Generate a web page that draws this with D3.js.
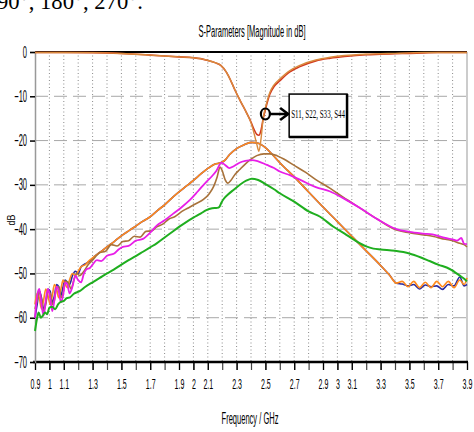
<!DOCTYPE html>
<html><head><meta charset="utf-8">
<script src="https://cdn.jsdelivr.net/npm/d3@7"></script>
<style>
body{margin:0;background:#fff;}
svg{display:block;}
</style></head>
<body><svg id="c" width="474" height="432"></svg>
<script>
// ---------- data ----------
const xTickLabels = [0.9,1,1.1,1.3,1.5,1.7,1.9,2,2.1,2.3,2.5,2.7,2.9,3,3.1,3.3,3.5,3.7,3.9];
const xMinorTicks = [0.9,1,1.1,1.2,1.3,1.4,1.5,1.6,1.7,1.8,1.9,2,2.1,2.2,2.3,2.4,2.5,2.6,2.7,2.8,2.9,3,3.1,3.2,3.3,3.4,3.5,3.6,3.7,3.8,3.9];
const yTicks = [0,-10,-20,-30,-40,-50,-60,-70];

// S11 group (reflection)
const s11Freq = [0.9,1.1,1.3,1.5,1.6,1.7,1.8,1.9,2.0,2.05,2.1,2.15,2.19,2.23,2.26,2.29,2.33,2.37,2.4,2.42,2.44,2.455,2.47,2.485,2.5,2.53,2.56,2.6,2.67,2.74,2.85,2.95,3.05,3.2,3.3,3.4,3.5,3.6,3.7,3.9];
const s11Red  = [-0.1,-0.1,-0.15,-0.35,-0.5,-0.7,-0.9,-1.1,-1.3,-1.5,-1.9,-2.4,-3.0,-4.6,-6.5,-8.7,-11.3,-13.8,-15.8,-17.4,-18.6,-18.8,-17.6,-15.0,-13.0,-9.6,-7.8,-6.5,-4.5,-3.3,-2.0,-1.4,-1.0,-0.6,-0.5,-0.4,-0.3,-0.2,-0.1,-0.1];
const s11Org  = [-0.1,-0.1,-0.15,-0.35,-0.5,-0.7,-0.9,-1.1,-1.3,-1.5,-1.9,-2.4,-3.0,-4.6,-6.5,-8.7,-11.3,-13.8,-16.0,-18.2,-20.8,-22.4,-19.5,-14.8,-12.6,-9.2,-7.4,-6.1,-4.2,-3.0,-1.8,-1.2,-0.8,-0.5,-0.4,-0.3,-0.2,-0.1,-0.1,-0.1];

// transmission, orange
const orgFreq = [0.9,0.915,0.93,0.945,0.96,0.975,0.99,1.005,1.02,1.035,1.05,1.065,1.08,1.095,1.11,1.125,1.14,1.16,1.18,1.2,1.22,1.25,1.28,1.32,1.36,1.4,1.45,1.5,1.55,1.6,1.65,1.7,1.75,1.8,1.85,1.9,1.95,2.0,2.05,2.1,2.15,2.19,2.22,2.25,2.3,2.35,2.4,2.45,2.5,2.55,2.6,2.7,2.8,2.9,3.0,3.1,3.2,3.3,3.36,3.41,3.45,3.49,3.53,3.57,3.61,3.65,3.69,3.73,3.77,3.81,3.85,3.88,3.9];
const orgDb   = [-57,-54.5,-55.5,-58,-56,-53.5,-55,-57,-55,-52.5,-53.5,-55.5,-53.5,-51.5,-52.5,-53.2,-51.5,-50,-50.5,-49.5,-48.5,-48,-47,-46,-45,-44,-42.8,-41.5,-40.4,-39.3,-38.2,-37.2,-35.8,-34.5,-33,-31.6,-30.3,-29,-27.6,-26.3,-25.3,-25,-24.4,-23.2,-21.8,-21,-20.4,-20.6,-21.6,-23.2,-25,-28.2,-31.6,-35,-38.3,-41.6,-44.9,-48.2,-50.3,-52.2,-51.8,-53,-51.8,-53.2,-52,-53.2,-51.8,-53,-51.8,-53.2,-51.5,-52.5,-51];
// transmission, navy (mostly under the orange one)
const navyDb  = [-60,-57,-54,-55.5,-58,-56.5,-53.5,-54,-56.5,-55,-52.5,-53,-55,-53,-51.5,-52,-52.5,-50.5,-49.5,-50,-48.5,-47.8,-47.2,-46,-45,-44,-42.8,-41.5,-40.4,-39.3,-38.2,-37.2,-35.8,-34.5,-33,-31.6,-30.3,-29,-27.6,-26.3,-25.3,-25,-24.4,-23.2,-21.8,-21,-20.4,-20.6,-21.6,-23.2,-25,-28.2,-31.6,-35,-38.3,-41.6,-44.9,-48.2,-50.3,-52.2,-52.4,-52.8,-52.5,-53.5,-52.6,-53,-52.8,-53.6,-52.5,-52.8,-50.8,-52.8,-52.5];

// brown
const brnFreq = [0.9,0.915,0.93,0.945,0.96,0.975,0.99,1.005,1.02,1.035,1.05,1.065,1.08,1.095,1.11,1.13,1.15,1.17,1.19,1.21,1.24,1.27,1.3,1.35,1.39,1.43,1.47,1.51,1.55,1.59,1.63,1.67,1.71,1.745,1.79,1.83,1.87,1.92,1.976,2.02,2.07,2.11,2.14,2.165,2.185,2.2,2.22,2.24,2.26,2.29,2.32,2.36,2.4,2.44,2.49,2.53,2.58,2.64,2.7,2.78,2.85,2.95,3.04,3.16,3.28,3.41,3.5,3.6,3.66,3.75,3.8,3.85,3.88,3.9];
const brnDb   = [-58,-56,-54,-56,-58.5,-57,-54,-54.5,-57,-56,-53,-53,-55.5,-54.5,-51.8,-52,-53.5,-51.5,-50,-50.5,-49.5,-48,-47,-45.3,-45,-43.5,-43.8,-42.8,-42.6,-41.6,-41.8,-40.5,-40.4,-39.5,-38.8,-37.7,-37.2,-36,-35,-34.2,-33.3,-32,-30.4,-28.2,-26.0,-26.8,-28.8,-29.6,-29,-27.6,-26.6,-25.3,-24.2,-23.4,-23,-23,-23.4,-24.4,-25.6,-27.2,-28.8,-30.8,-32.8,-35.3,-37.8,-40.2,-40.8,-41.3,-41.6,-42.3,-42.6,-43.2,-43.5,-44];

// magenta
const magFreq = [0.9,0.915,0.93,0.945,0.96,0.975,0.99,1.005,1.02,1.035,1.05,1.065,1.08,1.095,1.11,1.125,1.14,1.16,1.18,1.2,1.22,1.24,1.26,1.28,1.3,1.33,1.36,1.4,1.45,1.48,1.51,1.55,1.6,1.65,1.7,1.745,1.8,1.86,1.92,1.976,2.03,2.09,2.13,2.16,2.196,2.22,2.25,2.28,2.32,2.36,2.405,2.45,2.51,2.56,2.6,2.67,2.75,2.85,2.95,3.04,3.16,3.28,3.41,3.5,3.6,3.66,3.75,3.8,3.83,3.86,3.88,3.9];
const magDb   = [-60,-55,-53.5,-57,-59.5,-56,-53.5,-55.5,-58.5,-56,-53,-54,-56.5,-55,-52,-52.5,-54.5,-53,-50.5,-51.5,-52,-50,-49,-48.8,-48,-47,-47.2,-46,-45.5,-44.6,-44,-43.8,-42.6,-42.2,-40.8,-39.2,-38,-36.5,-35,-33.4,-31.5,-29.3,-28,-26.8,-25,-25.5,-26.2,-25.8,-25,-24.6,-24.4,-24.7,-25.5,-26.2,-27,-27.8,-29,-30.5,-31.5,-33,-35.3,-37.8,-40,-40.6,-41,-41.2,-42,-42.3,-42.6,-42,-43.3,-43.4];

// green
const grnFreq = [0.9,0.915,0.925,0.94,0.955,0.97,0.985,1.0,1.02,1.04,1.06,1.075,1.1,1.12,1.143,1.17,1.21,1.25,1.3,1.35,1.4,1.444,1.5,1.55,1.6,1.65,1.7,1.745,1.8,1.85,1.9,1.95,2.0,2.05,2.09,2.13,2.165,2.18,2.195,2.21,2.24,2.28,2.33,2.37,2.405,2.45,2.51,2.56,2.6,2.7,2.8,2.88,2.97,3.05,3.12,3.2,3.25,3.3,3.4,3.5,3.58,3.64,3.7,3.78,3.85,3.88,3.9];
const grnDb   = [-63,-60,-58.8,-60,-59.5,-58.8,-59.2,-57.7,-57.5,-58.1,-57,-56.5,-56.2,-55.6,-55.4,-54.6,-54,-53,-52,-51,-50,-49.2,-48,-47,-46.1,-45.1,-44.1,-43.2,-41.9,-40.7,-39.5,-38.4,-37.4,-36.5,-35.7,-35.3,-35.2,-35,-34,-33.2,-32.2,-31.1,-29.8,-29,-28.6,-28.9,-30,-31,-31.9,-33.8,-36,-37.2,-39.4,-41,-42.5,-43.9,-44.4,-44.6,-44.9,-45.5,-46.4,-47.2,-48,-49,-50.5,-51.2,-51.8];

// ---------- chart ----------
const svg = d3.select('#c');
const x = d3.scaleLinear().domain([0.9,3.9]).range([35,467]);
const y = d3.scaleLinear().domain([-70,0]).range([362,52]);
const SX = 0.47;
const font = "'Liberation Sans', Arial, sans-serif";

// top clipped text (cut by the image edge, as in the source)
svg.append('text').attr('x',-3).attr('y',9)
  .attr('font-family',"'Liberation Serif','DejaVu Serif',serif").attr('font-size',23)
  .attr('textLength',146).attr('lengthAdjust','spacingAndGlyphs')
  .text('90°, 180°, 270°.');

// title
svg.append('g').attr('transform',`translate(${(x.range()[0]+x.range()[1])/2+1},37) scale(${SX},1)`)
  .append('text').attr('text-anchor','middle').attr('font-family',font).attr('font-size',16)
  .text('S-Parameters [Magnitude in dB]');

// gridlines
svg.append('g').selectAll('line').data(xMinorTicks.slice(1,-1)).join('line')
  .attr('x1',d=>x(d)).attr('x2',d=>x(d)).attr('y1',y(0)).attr('y2',y(-70))
  .attr('stroke','#8a8a8a').attr('stroke-width',1).attr('stroke-dasharray','1,2.5');
svg.append('g').selectAll('line').data(yTicks.slice(1,-1)).join('line')
  .attr('x1',x(0.9)).attr('x2',x(3.9)).attr('y1',d=>y(d)).attr('y2',d=>y(d))
  .attr('stroke','#a8a8a8').attr('stroke-width',1).attr('stroke-dasharray','13,6');

// frame
svg.append('line').attr('x1',x(0.9)).attr('x2',x(3.9)).attr('y1',y(0)).attr('y2',y(0)).attr('stroke','#000').attr('stroke-width',2);
svg.append('line').attr('x1',x(3.9)).attr('x2',x(3.9)).attr('y1',y(0)).attr('y2',y(-70)).attr('stroke','#999').attr('stroke-width',1);

// x axis (minor ticks)
svg.append('g').attr('transform',`translate(0,${y(-70)})`)
  .call(d3.axisBottom(x).tickValues(xMinorTicks).tickSize(8).tickFormat(''))
  .call(g=>{g.select('.domain').remove(); g.selectAll('line').attr('stroke','#444').attr('stroke-width',1.2);});
// x axis labels
const xa = svg.append('g').attr('transform',`translate(0,${y(-70)})`)
  .call(d3.axisBottom(x).tickValues(xTickLabels).tickSize(8).tickFormat(d3.format('~g')));
xa.select('.domain').remove();
xa.selectAll('line').attr('stroke','#000').attr('stroke-width',1.2);
xa.selectAll('text').attr('font-family',font).attr('font-size',15).attr('fill','#000')
  .attr('y',16).attr('dy','0.71em').attr('transform',`scale(${SX},1)`);
svg.append('line').attr('x1',x(0.9)-2).attr('x2',x(3.9)+1).attr('y1',y(-70)).attr('y2',y(-70)).attr('stroke','#000').attr('stroke-width',2.5);

// y axis
const ya = svg.append('g').attr('transform',`translate(${x(0.9)},0)`)
  .call(d3.axisLeft(y).tickValues(yTicks).tickSize(5).tickFormat(d3.format('d')));
ya.select('.domain').attr('stroke','#999').attr('stroke-width',1.5);
ya.selectAll('line').attr('stroke','#000').attr('stroke-width',1.5);
ya.selectAll('text').attr('font-family',font).attr('font-size',16).attr('fill','#000')
  .attr('x',-8/SX).attr('transform',`scale(${SX},1)`);

// axis titles
svg.append('g').attr('transform',`translate(250,424) scale(${SX},1)`)
  .append('text').attr('text-anchor','middle').attr('font-family',font).attr('font-size',16)
  .text('Frequency / GHz');
svg.append('g').attr('transform',`translate(15,220) rotate(-90) scale(0.8,1)`)
  .append('text').attr('text-anchor','middle').attr('font-family',font).attr('font-size',11)
  .text('dB');

// curves
const line = d3.line().x(d=>x(d[0])).y(d=>y(d[1])).curve(d3.curveMonotoneX);
const series = [
  {f:orgFreq, v:navyDb, c:'#2a2aa0', w:1.6},
  {f:orgFreq, v:orgDb,  c:'#ff8a1c', w:1.6},
  {f:brnFreq, v:brnDb,  c:'#a8723a', w:1.6},
  {f:magFreq, v:magDb,  c:'#e81ee8', w:1.8},
  {f:grnFreq, v:grnDb,  c:'#1fae1f', w:2.0},
  {f:s11Freq, v:s11Red, c:'#d2381e', w:1.6},
  {f:s11Freq, v:s11Org, c:'#d98a3c', w:1.4},
];
svg.append('g').selectAll('path').data(series).join('path')
  .attr('d',s=>line(s.f.map((f,i)=>[f,s.v[i]])))
  .attr('fill','none').attr('stroke',s=>s.c).attr('stroke-width',s=>s.w).attr('stroke-linejoin','round');

// annotation
const ann = svg.append('g');
const cx = x(2.5), cy = y(-14);
ann.append('ellipse').attr('cx',cx).attr('cy',cy).attr('rx',4.5).attr('ry',5.5)
  .attr('fill','none').attr('stroke','#000').attr('stroke-width',2.2);
const bx0 = x(2.665), bx1 = x(3.067), by0 = y(-9.5), by1 = y(-19.2);
ann.append('line').attr('x1',cx+4.5).attr('x2',bx0-1).attr('y1',cy).attr('y2',cy).attr('stroke','#000').attr('stroke-width',2.5);
ann.append('path').attr('d',`M${bx0-9},${cy-6}L${bx0-1},${cy}L${bx0-9},${cy+6}`).attr('fill','none').attr('stroke','#000').attr('stroke-width',2.5);
ann.append('rect').attr('x',bx0).attr('y',by0).attr('width',bx1-bx0).attr('height',by1-by0)
  .attr('fill','#fff').attr('stroke','#000').attr('stroke-width',1.5);
ann.append('path').attr('d',`M${bx1},${by0}L${bx1},${by1}L${bx0},${by1}`).attr('fill','none').attr('stroke','#000').attr('stroke-width',2.5);
ann.append('text').attr('x',(bx0+bx1)/2).attr('y',cy+4).attr('text-anchor','middle')
  .attr('font-family',"'Liberation Serif',serif").attr('font-size',12.5)
  .attr('textLength',bx1-bx0-4).attr('lengthAdjust','spacingAndGlyphs')
  .text('S11, S22, S33, S44');
</script></body></html>
